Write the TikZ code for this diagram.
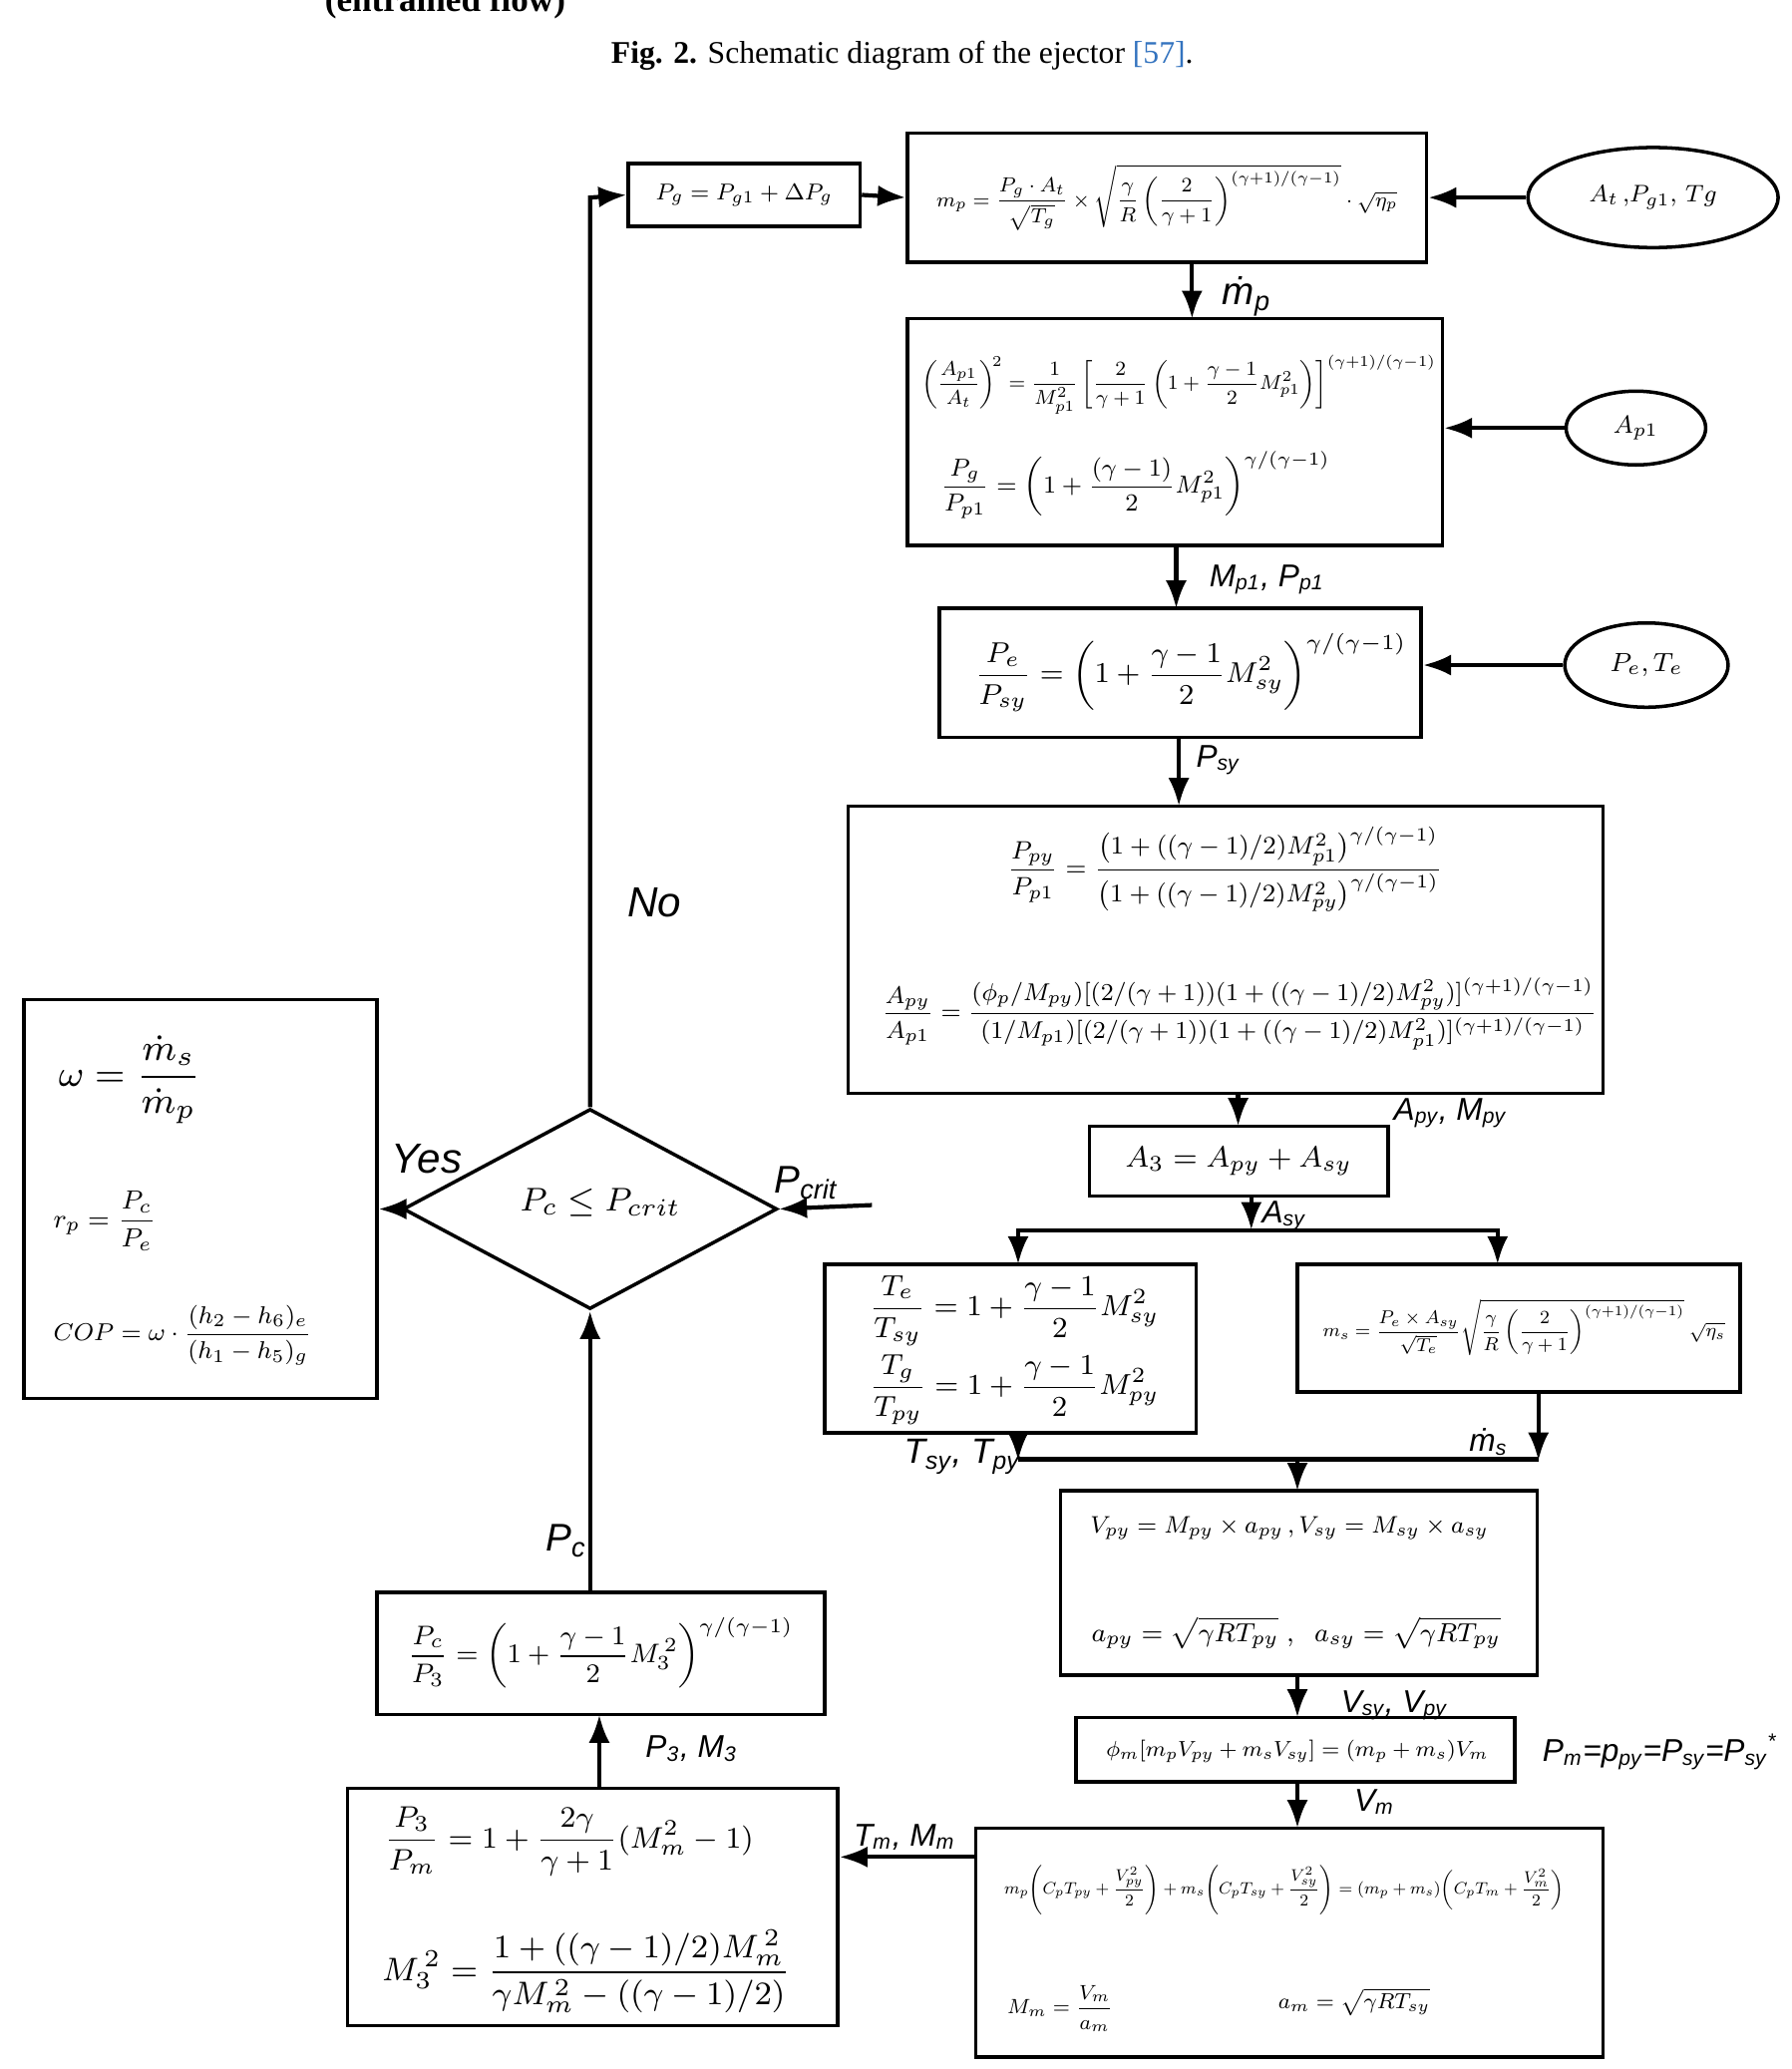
\documentclass[tikz,border=0pt]{standalone}
\usepackage{amsmath}
\usepackage{graphicx}
\usepackage{fontspec}
\setmainfont{Liberation Serif}
\newfontfamily\lab{Liberation Sans}
\usetikzlibrary{arrows.meta,fit,shapes.geometric}
\newcommand\rz[2]{\resizebox{#1cm}{!}{$\displaystyle #2$}}
\begin{document}
\begin{tikzpicture}[x=0.013206cm,y=-0.013206cm,
 box/.style={draw,line width=1pt,inner sep=0pt},
 ell/.style={draw,ellipse,line width=1pt},
 arr/.style={-{Latex[length=8pt,width=6pt]},line width=1.2pt},
 ln/.style={line width=1.2pt},
 lb/.style={font=\lab\itshape\fontsize{9}{11}\selectfont,inner sep=1pt},
 fm/.style={font=\fontsize{8}{10}\selectfont,inner sep=0pt}]
\useasboundingbox (0,0) rectangle (1360,1571);
\fill[white] (0,0) rectangle (1360,1571);
\node[font=\bfseries\fontsize{10}{12}\selectfont] at (338,2) {(entrained flow)};
\node[font=\fontsize{9}{11}\selectfont] (cap) at (685,42) {\textbf{Fig. 2.} Schematic diagram of the ejector \textcolor[rgb]{0.2,0.45,0.75}{[57]}.};
% boxes
\node[box,fit={(477,124)(653,172)}] (pg) {};
\node[fm] at (pg.center) {\rz{1.77}{P_g=P_{g1}+\Delta P_g}};
\node[box,fit={(689,101)(1083,199)}] (mp) {};
\node[fm] at (886,150) {\rz{4.62}{m_p=\dfrac{P_g\cdot A_t}{\sqrt{T_g}}\times\sqrt{\dfrac{\gamma}{R}\left(\dfrac{2}{\gamma+1}\right)^{(\gamma+1)/(\gamma-1)}}\cdot\sqrt{\eta_p}}};
\node[ell,minimum width=190*0.013206cm,minimum height=76*0.013206cm] (e1) at (1255,150) {};
\node[fm] at (e1) {\rz{1.28}{A_t\,,\!P_{g1},\,Tg}};
\node[box,fit={(689,242)(1095,414)}] (ap) {};
\node[fm] at (895,292) {\rz{5.15}{\left(\dfrac{A_{p1}}{A_t}\right)^{\!2}=\dfrac{1}{M_{p1}^2}\left[\dfrac{2}{\gamma+1}\left(1+\dfrac{\gamma-1}{2}M_{p1}^2\right)\right]^{(\gamma+1)/(\gamma-1)}}};
\node[fm] at (862,368) {\rz{3.9}{\dfrac{P_g}{P_{p1}}=\left(1+\dfrac{(\gamma-1)}{2}M_{p1}^2\right)^{\gamma/(\gamma-1)}}};
\node[ell,minimum width=106*0.013206cm,minimum height=56*0.013206cm] (e2) at (1242,325) {};
\node[fm] at (e2) {\rz{0.45}{A_{p1}}};
\node[box,fit={(713,462)(1079,560)}] (pe) {};
\node[fm] at (904,511) {\rz{4.33}{\dfrac{P_e}{P_{sy}}=\left(1+\dfrac{\gamma-1}{2}M_{sy}^2\right)^{\gamma/(\gamma-1)}}};
\node[ell,minimum width=124*0.013206cm,minimum height=64*0.013206cm] (e3) at (1250,505) {};
\node[fm] at (e3) {\rz{0.73}{P_e,T_e}};
\node[box,fit={(644,612)(1217,830)}] (big) {};
\node[fm] at (930,660) {\rz{4.36}{\dfrac{P_{py}}{P_{p1}}=\dfrac{\bigl(1+((\gamma-1)/2)M_{p1}^2\bigr)^{\gamma/(\gamma-1)}}{\bigl(1+((\gamma-1)/2)M_{py}^2\bigr)^{\gamma/(\gamma-1)}}}};
\node[fm] at (941,770) {\rz{7.17}{\dfrac{A_{py}}{A_{p1}}=\dfrac{(\phi_p/M_{py})[(2/(\gamma+1))(1+((\gamma-1)/2)M_{py}^2)]^{(\gamma+1)/(\gamma-1)}}{(1/M_{p1})[(2/(\gamma+1))(1+((\gamma-1)/2)M_{p1}^2)]^{(\gamma+1)/(\gamma-1)}}}};
\node[box,fit={(827,855)(1054,908)}] (a3) {};
\node[fm] at (a3.center) {\rz{2.27}{A_3=A_{py}+A_{sy}}};
\node[box,fit={(626,960)(908,1088)}] (te) {};
\node[fm] at (770,995) {\rz{2.9}{\dfrac{T_e}{T_{sy}}=1+\dfrac{\gamma-1}{2}M_{sy}^2}};
\node[fm] at (770,1055) {\rz{2.9}{\dfrac{T_g}{T_{py}}=1+\dfrac{\gamma-1}{2}M_{py}^2}};
\node[box,fit={(985,960)(1321,1057)}] (ms) {};
\node[fm] at (1157,1008) {\rz{4.03}{m_s=\dfrac{P_e\times A_{sy}}{\sqrt{T_e}}\sqrt{\dfrac{\gamma}{R}\left(\dfrac{2}{\gamma+1}\right)^{(\gamma+1)/(\gamma-1)}}\ \sqrt{\eta_s}}};
\node[box,fit={(805,1132)(1167,1272)}] (v) {};
\node[fm] at (979,1160) {\rz{3.99}{V_{py}=M_{py}\times a_{py}\,,V_{sy}=M_{sy}\times a_{sy}}};
\node[fm] at (984,1240) {\rz{4.1}{a_{py}=\sqrt{\gamma RT_{py}}\;,\;\; a_{sy}=\sqrt{\gamma RT_{py}}}};
\node[box,fit={(817,1304)(1150,1353)}] (phi) {};
\node[fm] at (985,1330) {\rz{3.83}{\phi_m[m_pV_{py}+m_sV_{sy}]=(m_p+m_s)V_m}};
\node[lb,anchor=west] at (1168,1330) {P\textsubscript{m}=p\textsubscript{py}=P\textsubscript{sy}=P\textsubscript{sy}\textsuperscript{*}};
\node[box,fit={(741,1388)(1217,1562)}] (en) {};
\node[fm] at (975,1435) {\rz{5.61}{m_p\!\left(C_pT_{py}+\dfrac{V_{py}^2}{2}\right)+m_s\!\left(C_pT_{sy}+\dfrac{V_{sy}^2}{2}\right)=(m_p+m_s)\!\left(C_pT_m+\dfrac{V_m^2}{2}\right)}};
\node[fm] at (805,1525) {\rz{1.06}{M_m=\dfrac{V_m}{a_m}}};
\node[fm] at (1028,1520) {\rz{1.52}{a_m=\sqrt{\gamma RT_{sy}}}};
\node[box,fit={(264,1358)(636,1538)}] (p3) {};
\node[fm] at (432,1398) {\rz{3.7}{\dfrac{P_3}{P_m}=1+\dfrac{2\gamma}{\gamma+1}(M_m^2-1)}};
\node[fm] at (445,1497) {\rz{4.09}{M_3^{\,2}=\dfrac{1+((\gamma-1)/2)M_m^{\,2}}{\gamma M_m^{\,2}-((\gamma-1)/2)}}};
\node[box,fit={(286,1209)(626,1302)}] (pc) {};
\node[fm] at (456,1255) {\rz{3.86}{\dfrac{P_c}{P_3}=\left(1+\dfrac{\gamma-1}{2}M_3^{\,2}\right)^{\gamma/(\gamma-1)}}};
\node[draw,diamond,line width=1pt,minimum width=284*0.013206cm,minimum height=152*0.013206cm,inner sep=0pt] (d) at (448,918) {};
\node[fm] at (456,913) {\rz{1.61}{P_c\le P_{crit}}};
\node[box,fit={(18,759)(286,1062)}] (res) {};
\node[fm,anchor=west] at (44,820) {\rz{1.43}{\omega=\dfrac{\dot m_s}{\dot m_p}}};
\node[fm,anchor=west] at (40,927) {\rz{1.03}{r_p=\dfrac{P_c}{P_e}}};
\node[fm,anchor=west] at (40,1014) {\rz{2.59}{COP=\omega\cdot\dfrac{(h_2-h_6)_e}{(h_1-h_5)_g}}};
% connectors
\draw[arr] (pg.east) -- (mp.west);
\draw[arr] (e1.west) -- (mp.east);
\draw[arr] (e2.west) -- (ap.east|-e2);
\draw[arr] (e3.west) -- (pe.east|-e3);
\draw[arr] (905,199) -- (905,242); \node[lb,anchor=west,font=\lab\itshape\fontsize{11}{13}\selectfont] at (925,225) {ṁ\textsubscript{p}};
\draw[arr] (893,414) -- (893,462); \node[lb,anchor=west] at (915,440) {M\textsubscript{p1}, P\textsubscript{p1}};
\draw[arr] (895,560) -- (895,612); \node[lb,anchor=west] at (905,577) {P\textsubscript{sy}};
\draw[arr] (940,830) -- (940,855); \node[lb,anchor=west] at (1055,845) {A\textsubscript{py}, M\textsubscript{py}};
\draw[arr] (950,908) -- (950,934); \node[lb,anchor=west] at (955,923) {A\textsubscript{sy}};
\draw[ln] (773,934) -- (1137,934);
\draw[arr] (773,933) -- (773,960);
\draw[arr] (1137,933) -- (1137,960);
\draw[arr] (1168,1057) -- (1168,1109); \node[lb,anchor=east] at (1148,1095) {ṁ\textsubscript{s}};
\draw[arr] (773,1088) -- (773,1109); \node[lb,anchor=east,font=\lab\itshape\fontsize{10}{12}\selectfont] at (778,1106) {T\textsubscript{sy}, T\textsubscript{py}};
\draw[ln] (773,1108) -- (1168,1108);
\draw[arr] (985,1107) -- (985,1132);
\draw[arr] (985,1272) -- (985,1304); \node[lb,anchor=west] at (1015,1295) {V\textsubscript{sy}, V\textsubscript{py}};
\draw[arr] (985,1353) -- (985,1388); \node[lb,anchor=west] at (1025,1368) {V\textsubscript{m}};
\draw[arr] (en.west|-0,1410) -- (p3.east|-0,1410); \node[lb,anchor=west] at (645,1395) {T\textsubscript{m}, M\textsubscript{m}};
\draw[arr] (455,1358) -- (455,1302); \node[lb,anchor=west] at (487,1328) {P\textsubscript{3}, M\textsubscript{3}};
\draw[arr] (448,1209) -- (d.south); \node[lb,font=\lab\itshape\fontsize{11}{13}\selectfont] at (430,1170) {P\textsubscript{c}};
\coordinate (pcr) at (662,915);
\draw[arr] (pcr) -- (d.east); \node[lb,font=\lab\itshape\fontsize{11}{13}\selectfont] at (612,898) {P\textsubscript{crit}};
\draw[arr] (d.west) -- (res.east|-d); \node[lb,font=\lab\itshape\fontsize{12}{14}\selectfont] at (324,880) {Yes};
\coordinate (cn) at (448,150);
\draw[arr] (d.north) -- (cn) -- (pg.west); \node[lb,font=\lab\itshape\fontsize{12}{14}\selectfont] at (497,685) {No};
\end{tikzpicture}
\end{document}
